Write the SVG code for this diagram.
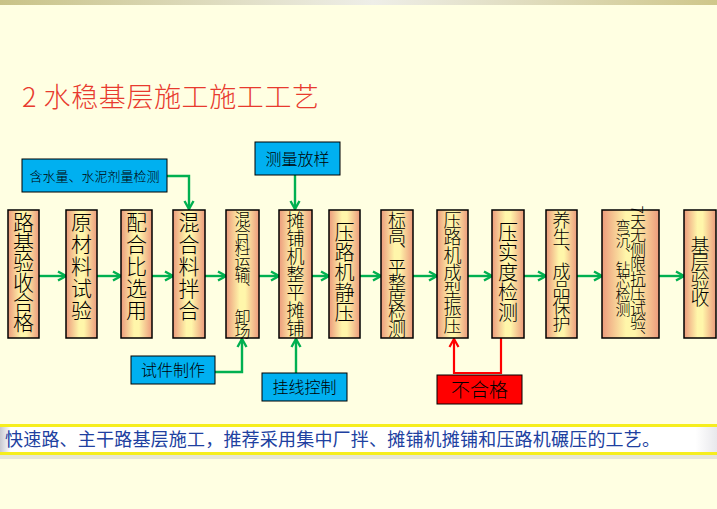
<svg xmlns="http://www.w3.org/2000/svg" width="717" height="509" viewBox="0 0 717 509">
<defs>
<linearGradient id="topbar" x1="0" y1="0" x2="1" y2="0">
<stop offset="0" stop-color="#C9C387"/>
<stop offset="0.52" stop-color="#EEEEE8"/>
<stop offset="1" stop-color="#CFC78A"/>
</linearGradient>
<linearGradient id="boxg" x1="0" y1="0" x2="1" y2="0">
<stop offset="0" stop-color="#EC9A7C"/>
<stop offset="0.42" stop-color="#FFF6AA"/>
<stop offset="0.58" stop-color="#FFF6AA"/>
<stop offset="1" stop-color="#EC9A7C"/>
</linearGradient>
<linearGradient id="band" x1="0" y1="0" x2="1" y2="0">
<stop offset="0" stop-color="#C8C8D0"/>
<stop offset="0.015" stop-color="#FFFFFF"/>
<stop offset="0.97" stop-color="#FFFFFF"/>
<stop offset="1" stop-color="#E8E8EC"/>
</linearGradient>
<marker id="ga" markerUnits="userSpaceOnUse" markerWidth="12" markerHeight="12" viewBox="0 0 12 12" refX="10" refY="6" orient="auto">
<path d="M2,1.5 L10,6 L2,10.5" fill="none" stroke="#00B050" stroke-width="2.4"/>
</marker>
<marker id="ra" markerUnits="userSpaceOnUse" markerWidth="12" markerHeight="12" viewBox="0 0 12 12" refX="10" refY="6" orient="auto">
<path d="M2,1.5 L10,6 L2,10.5" fill="none" stroke="#FF0000" stroke-width="2.2"/>
</marker>
</defs>
<style>
.node rect.b{fill:url(#boxg);stroke:#000;stroke-width:1.5}
.vt{font-family:"Noto Sans CJK SC","Noto Sans",sans-serif;font-weight:300;writing-mode:vertical-rl;fill:#000}
.blue{fill:#00B0F0;stroke:#000;stroke-width:1}
.lbl{font-family:"Noto Sans CJK SC","Noto Sans",sans-serif;font-weight:300;text-anchor:middle;fill:#000}
.g{fill:none;stroke:#00B050;stroke-width:2.4;marker-end:url(#ga)}
.r{fill:none;stroke:#FF0000;stroke-width:2.2;marker-end:url(#ra)}
</style>
<rect x="0" y="0" width="717" height="509" fill="#FFFFE2"/>
<rect x="0" y="0" width="717" height="5" fill="url(#topbar)"/>
<text x="22" y="107" font-family="&quot;Noto Sans CJK SC&quot;,&quot;Noto Sans&quot;,sans-serif" font-weight="300" font-size="27" letter-spacing="0.6" fill="#E83A2E">2 水稳基层施工施工工艺</text>

<g id="connectors">
<path class="g" d="M39,276 H66"/>
<path class="g" d="M97,276 H121"/>
<path class="g" d="M152,276 H173"/>
<path class="g" d="M205,276 H226"/>
<path class="g" d="M259,276 H279"/>
<path class="g" d="M312,276 H329"/>
<path class="g" d="M360,276 H381"/>
<path class="g" d="M413,276 H437"/>
<path class="g" d="M468,276 H492"/>
<path class="g" d="M524,276 H546"/>
<path class="g" d="M577,276 H602"/>
<path class="g" d="M659,276 H684"/>
<path class="g" d="M167,176 H189 V209"/>
<path class="g" d="M295,175 V209"/>
<path class="g" d="M215,372 H242 V339"/>
<path class="g" d="M296,373 V339"/>
<path class="r" d="M501,338 V373 H454 V339"/>
</g>

<g id="n1" class="node"><rect class="b" x="8" y="210" width="31" height="128"/><text class="vt" x="23.5" y="212" font-size="21" letter-spacing="-1">路基验收合格</text></g>
<g id="n2" class="node"><rect class="b" x="66" y="210" width="31" height="128"/><text class="vt" x="81.5" y="212" font-size="21" letter-spacing="0.8">原材料试验</text></g>
<g id="n3" class="node"><rect class="b" x="121" y="210" width="31" height="128"/><text class="vt" x="136.5" y="212" font-size="21" letter-spacing="0.8">配合比选用</text></g>
<g id="n4" class="node"><rect class="b" x="173" y="210" width="32" height="128"/><text class="vt" x="189" y="212" font-size="21" letter-spacing="0.8">混合料拌合</text></g>
<g id="n5" class="node"><rect class="b" x="226" y="210" width="33" height="128"/><text class="vt" x="242.5" y="211" font-size="16" letter-spacing="-2">混合料运输、<tspan dy="14">卸场</tspan></text></g>
<g id="n6" class="node"><rect class="b" x="279" y="210" width="33" height="128"/><text class="vt" x="295.5" y="211" font-size="18">摊铺机整平摊铺</text></g>
<g id="n7" class="node"><rect class="b" x="329" y="210" width="31" height="128"/><text class="vt" x="344.5" y="222" font-size="20">压路机静压</text></g>
<g id="n8" class="node"><rect class="b" x="381" y="210" width="32" height="128"/><text class="vt" x="397" y="211" font-size="18" letter-spacing="-2.4">标高、平整度检测</text></g>
<g id="n9" class="node"><rect class="b" x="437" y="210" width="31" height="128"/><text class="vt" x="452.5" y="211" font-size="18" letter-spacing="-0.5">压路机成型振压</text></g>
<g id="n10" class="node"><rect class="b" x="492" y="210" width="32" height="128"/><text class="vt" x="508" y="222" font-size="20">压实度检测</text></g>
<g id="n11" class="node"><rect class="b" x="546" y="210" width="31" height="128"/><text class="vt" x="561.5" y="211" font-size="18" letter-spacing="-0.8">养生、成品保护</text></g>
<g id="n12" class="node"><rect class="b" x="602" y="210" width="57" height="128"/><text class="vt" x="638" y="205.5" font-size="16" letter-spacing="-1.5">7天无侧限抗压试验、</text><text class="vt" x="623" y="219" font-size="15" letter-spacing="-1.2">弯沉、钻芯检测</text></g>
<g id="n13" class="node"><rect class="b" x="684" y="210" width="32" height="128"/><text class="vt" x="700" y="236" font-size="19" letter-spacing="-1.5">基层验收</text></g>

<g id="s1"><rect class="blue" x="22" y="159" width="145" height="33"/><text class="lbl" x="94.5" y="180.5" font-size="13">含水量、水泥剂量检测</text></g>
<g id="s2"><rect class="blue" x="255" y="142" width="85" height="33"/><text class="lbl" x="297.5" y="164.5" font-size="16">测量放样</text></g>
<g id="s3"><rect class="blue" x="131" y="356" width="84" height="28"/><text class="lbl" x="173" y="375.5" font-size="16">试件制作</text></g>
<g id="s4"><rect class="blue" x="262" y="373" width="85" height="28"/><text class="lbl" x="304.5" y="392.5" font-size="16">挂线控制</text></g>
<g id="s5"><rect x="437" y="375" width="85" height="29" fill="#FF0000" stroke="#000" stroke-width="1"/><text class="lbl" x="479.5" y="397" font-size="19" fill="#300000">不合格</text></g>

<rect x="0" y="455" width="717" height="4" fill="#E6E6D8"/>
<rect x="0" y="424" width="717" height="31" fill="#F6EE1E"/>
<rect x="0" y="427" width="717" height="25" fill="url(#band)"/>
<text x="5" y="445.5" font-family="&quot;Noto Sans CJK SC&quot;,&quot;Noto Sans&quot;,sans-serif" font-size="18" letter-spacing="0.2" fill="#2040A0">快速路、主干路基层施工，推荐采用集中厂拌、摊铺机摊铺和压路机碾压的工艺。</text>
</svg>
